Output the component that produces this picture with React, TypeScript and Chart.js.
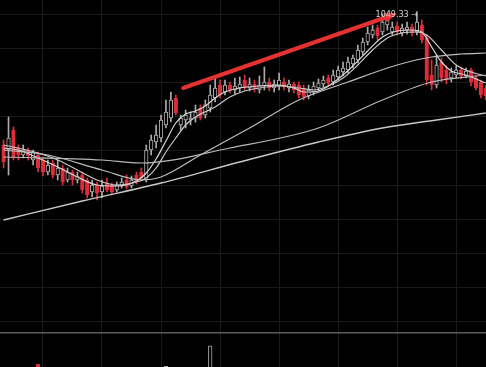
import React, { useEffect, useRef } from "react";
import { Chart, registerables } from "chart.js";

Chart.register(...registerables);

// ---- candle data (one value per trading day) ----
const opens = [
  916, 911, 931, 913, 906, 911, 901, 906, 901, 889,
  898, 886, 893, 881, 889, 881, 886, 881, 869, 876,
  869, 878, 876, 871, 875, 881, 875, 886, 889, 881,
  911, 919, 923, 936, 943, 963, 936, 941, 941, 943,
  953, 946, 953, 963, 976, 969, 976, 971, 973, 981,
  973, 977, 971, 975, 979, 973, 975, 979, 973, 977,
  976, 973, 965, 969, 973, 977, 983, 979, 984, 989,
  991, 997, 1001, 1009, 1019, 1026, 1033, 1029, 1036, 1029,
  1035, 1028, 1031, 1034, 1029, 1036, 1023, 986, 976, 999,
  991, 983, 986, 991, 985, 991, 983, 979, 973,
];
const closes = [
  899, 923, 904, 906, 911, 905, 909, 893, 889, 896,
  886, 893, 879, 889, 881, 885, 871, 866, 876, 868,
  875, 871, 869, 876, 879, 874, 881, 879, 883, 911,
  921, 926, 941, 949, 961, 948, 943, 946, 943, 949,
  943, 956, 966, 973, 966, 976, 971, 975, 977, 973,
  977, 972, 976, 979, 973, 977, 981, 974, 977, 971,
  966, 964, 971, 975, 978, 981, 978, 986, 991, 993,
  999, 1003, 1011, 1019, 1028, 1031, 1025, 1039, 1041, 1034,
  1029, 1033, 1034, 1028, 1039, 1021, 981, 976, 996, 983,
  981, 989, 991, 985, 990, 979, 973, 966, 965,
];
const highs = [
  921, 944, 934, 916, 916, 913, 911, 909, 904, 901,
  901, 901, 896, 893, 891, 889, 889, 883, 881, 879,
  881, 883, 878, 879, 883, 886, 885, 889, 893, 916,
  926, 936, 946, 961, 969, 966, 946, 951, 949, 956,
  956, 961, 976, 983, 981, 981, 979, 983, 984, 986,
  983, 981, 985, 994, 983, 981, 988, 983, 981, 979,
  979, 976, 976, 979, 982, 985, 986, 991, 995, 999,
  1004, 1006, 1016, 1023, 1034, 1036, 1036, 1047, 1045, 1039,
  1039, 1037, 1039, 1037, 1049.33, 1041, 1026, 1001, 1006, 1003,
  995, 993, 995, 994, 993, 993, 986, 981, 976,
];
const lows = [
  893, 886, 901, 901, 903, 901, 896, 889, 885, 886,
  883, 881, 876, 879, 876, 878, 868, 863, 864, 861,
  863, 869, 867, 869, 873, 872, 873, 877, 881, 879,
  906, 913, 919, 933, 939, 946, 931, 933, 936, 939,
  941, 943, 949, 959, 963, 966, 968, 967, 969, 971,
  970, 969, 968, 971, 970, 969, 971, 971, 969, 968,
  963, 961, 962, 966, 970, 974, 975, 976, 981, 985,
  988, 993, 998, 1006, 1016, 1023, 1021, 1026, 1031, 1026,
  1026, 1025, 1027, 1025, 1026, 1018, 976, 971, 973, 979,
  977, 979, 983, 982, 983, 975, 971, 963, 961,
];
const volumes = [
  38, 42, 45, 36, 30, 33, 35, 54, 40, 32,
  35, 38, 41, 33, 30, 34, 44, 46, 36, 39,
  33, 35, 37, 31, 30, 34, 32, 36, 38, 47,
  45, 42, 44, 51, 48, 45, 40, 38, 36, 39,
  41, 44, 81, 47, 43, 40, 38, 36, 35, 37,
  34, 36, 39, 42, 37, 35, 38, 34, 36, 40,
  43, 41, 38, 35, 34, 37, 36, 40, 42, 44,
  43, 45, 47, 46, 48, 44, 42, 45, 41, 39,
  38, 40, 37, 36, 42, 44, 49, 46, 43, 40,
  38, 36, 35, 34, 37, 38, 41, 43, 45,
];

// ---- moving averages: [day, value] ----
const ma5: [number, number][] = [
  [0, 913], [3, 911], [7, 903], [11, 894], [15, 884], [19, 876], [23, 875], [27, 880],
  [29, 888], [31, 902], [33, 920], [35, 938], [37, 947], [39, 950], [41, 955], [43, 963],
  [45, 969], [48, 973], [52, 975], [56, 976], [59, 973], [61, 969], [63, 969], [65, 972],
  [68, 982], [71, 995], [74, 1010], [77, 1024], [80, 1030], [83, 1031], [85, 1029],
  [87, 1014], [89, 999], [91, 990], [94, 986], [98, 978],
];
const ma10: [number, number][] = [
  [0, 916], [3, 913], [7, 908], [11, 901], [15, 891], [19, 881], [23, 876], [27, 879],
  [29, 883], [31, 893], [33, 909], [35, 923], [37, 936], [39, 944], [43, 954], [46, 964],
  [49, 970], [52, 973], [56, 975], [60, 973], [63, 971], [66, 975], [69, 983], [72, 996],
  [75, 1011], [78, 1023], [81, 1028], [84, 1029], [86, 1026], [89, 1011], [92, 996],
  [95, 989], [98, 985],
];
const ma20: [number, number][] = [
  [0, 911], [9, 906], [20, 891], [28, 881], [32, 884], [40, 906], [50, 933], [60, 961],
  [70, 979], [80, 996], [87, 1004], [93, 1007], [98, 1008],
];
const ma60: [number, number][] = [
  [0, 904], [20, 901], [28, 898], [46, 913], [64, 933], [77, 961], [87, 979], [98, 986],
];
const ma120: [number, number][] = [
  [0, 841], [16, 860], [32, 878], [48, 899], [64, 919], [77, 933], [88, 941], [98, 948],
];

// ---- hand-drawn annotation arrow: [day, price] ----
const arrowDays = [36.5, 79.1];
const arrowPrices = [973, 1046];

// ---- axes ----
const dayMin = -0.73;
const dayMax = 98.05;
const dayGrid = [8, 20, 32, 44, 56, 68, 80, 92];
const priceMin = 728;
const priceMax = 1061;
const priceGrid = [1047, 1012.8, 978.6, 944.4, 910.2, 876, 841.8, 807.6, 773.4, 739.2];
const volMin = 50;
const volMax = 100;

const RED = "rgb(220,46,58)";
const GRAY = "rgb(172,172,172)";
const ARROW_RED = "rgb(228,50,50)";

export default function App() {
  const ref = useRef<HTMLCanvasElement | null>(null);

  useEffect(() => {
    document.body.style.background = "#000";
    const canvas = ref.current;
    if (!canvas) return;
    const idx = opens.map((_, i) => i);
    const up = (i: number) => closes[i] >= opens[i];
    const col = idx.map((i) => (up(i) ? GRAY : RED));

    const overlay = {
      id: "overlay",
      afterDatasetsDraw(chart: any) {
        const { ctx } = chart;
        const x = chart.scales.x;
        const y = chart.scales.y;
        // arrow head
        const x0 = x.getPixelForValue(arrowDays[0]);
        const y0 = y.getPixelForValue(arrowPrices[0]);
        const x1 = x.getPixelForValue(arrowDays[1]);
        const y1 = y.getPixelForValue(arrowPrices[1]);
        const a = Math.atan2(y1 - y0, x1 - x0);
        const len = 12;
        const half = 5;
        ctx.save();
        ctx.fillStyle = ARROW_RED;
        ctx.beginPath();
        const tx = x1 + Math.cos(a) * 4;
        const ty = y1 + Math.sin(a) * 4;
        ctx.moveTo(tx, ty);
        ctx.lineTo(tx - Math.cos(a) * len - Math.sin(a) * half, ty - Math.sin(a) * len + Math.cos(a) * half);
        ctx.lineTo(tx - Math.cos(a) * len + Math.sin(a) * half, ty - Math.sin(a) * len - Math.cos(a) * half);
        ctx.closePath();
        ctx.fill();
        // high label
        const hi = Math.max(...highs);
        const hiIdx = highs.indexOf(hi);
        ctx.font = '8px "DejaVu Sans", sans-serif';
        ctx.fillStyle = "#d4d4d4";
        ctx.textAlign = "right";
        ctx.textBaseline = "middle";
        ctx.fillText(`${hi.toFixed(2)} →`, x.getPixelForValue(hiIdx) + 1, y.getPixelForValue(hi) + 3);
        ctx.restore();
      },
    };

    const maLine = (data: [number, number][], color: string, width = 1.2) => ({
      type: "line" as const,
      data,
      borderColor: color,
      borderWidth: width,
      pointRadius: 0,
      tension: 0.4,
      cubicInterpolationMode: "monotone" as const,
      yAxisID: "y",
      order: 2,
    });

    const chart = new Chart(canvas, {
      type: "bar",
      data: {
        datasets: [
          {
            type: "bar",
            data: idx.map((i) => ({ x: i, y: [lows[i], highs[i]] })) as any,
            backgroundColor: col,
            barThickness: 1,
            grouped: false,
            yAxisID: "y",
            order: 10,
          },
          {
            type: "bar",
            data: idx.map((i) => ({ x: i, y: [opens[i], closes[i]] })) as any,
            backgroundColor: idx.map((i) => (up(i) ? "#000" : RED)),
            borderColor: col,
            borderWidth: 1,
            borderSkipped: false,
            barThickness: 3.6,
            grouped: false,
            yAxisID: "y",
            order: 9,
          },
          {
            type: "bar",
            data: idx.map((i) => ({ x: i, y: volumes[i] })) as any,
            backgroundColor: idx.map((i) => (up(i) ? "#000" : RED)),
            borderColor: col,
            borderWidth: 1,
            borderSkipped: false,
            barThickness: 3.6,
            grouped: false,
            yAxisID: "yv",
            order: 9,
          },
          maLine(ma120, "rgb(200,200,200)", 1.4),
          maLine(ma60, "rgb(185,185,185)"),
          maLine(ma20, "rgb(190,190,190)"),
          maLine(ma10, "rgb(200,200,200)"),
          maLine(ma5, "rgb(215,215,215)"),
          {
            type: "line",
            data: arrowDays.map((d, i) => [d, arrowPrices[i]]) as any,
            borderColor: ARROW_RED,
            borderWidth: 4,
            borderCapStyle: "round",
            pointRadius: 0,
            yAxisID: "y",
            order: 0,
          },
        ] as any,
      },
      options: {
        animation: false,
        responsive: false,
        maintainAspectRatio: false,
        layout: { padding: 0 },
        plugins: { legend: { display: false }, tooltip: { enabled: false } },
        scales: {
          x: {
            type: "linear",
            min: dayMin,
            max: dayMax,
            offset: false,
            afterBuildTicks: (s: any) => {
              s.ticks = dayGrid.map((v) => ({ value: v }));
            },
            ticks: { display: false },
            grid: { color: "#1b1b1b", drawTicks: false, offset: false },
            border: { display: false },
          },
          yv: {
            type: "linear",
            position: "left",
            stack: "main",
            stackWeight: 34,
            min: volMin,
            max: volMax,
            ticks: { display: false },
            grid: { display: false, drawTicks: false },
            border: { display: false },
          },
          y: {
            type: "linear",
            position: "left",
            stack: "main",
            stackWeight: 333,
            min: priceMin,
            max: priceMax,
            afterBuildTicks: (s: any) => {
              s.ticks = [priceMin, ...priceGrid].map((v) => ({ value: v }));
            },
            ticks: { display: false },
            grid: {
              color: (c: any) => (c.tick && c.tick.value === priceMin ? "#5c5c5c" : "#191919"),
              lineWidth: (c: any) => (c.tick && c.tick.value === priceMin ? 1.5 : 1),
              drawTicks: false,
            },
            border: { display: false },
          },
        } as any,
      },
      plugins: [overlay],
    });
    return () => chart.destroy();
  }, []);

  return (
    <div style={{ position: "fixed", left: 0, top: 0, width: 486, height: 367, background: "#000" }}>
      <canvas ref={ref} width={486} height={367} style={{ display: "block" }} />
    </div>
  );
}
